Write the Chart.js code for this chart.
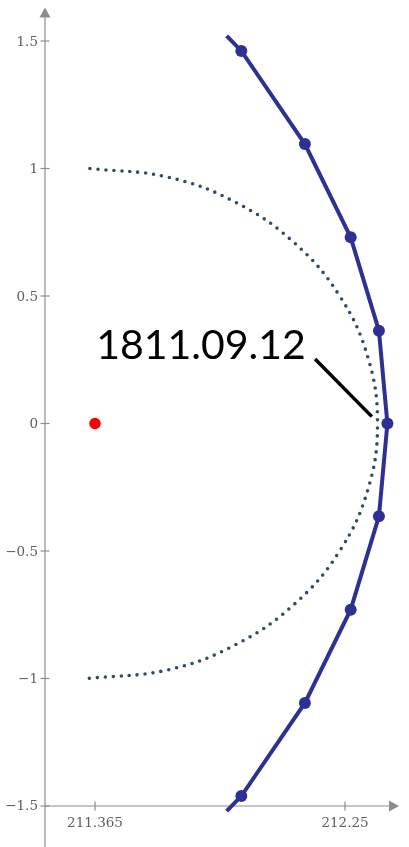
<!DOCTYPE html>
<html>
<head>
<meta charset="utf-8">
<script src="https://cdn.jsdelivr.net/npm/chart.js@4"></script>
<style>
  html, body { margin: 0; padding: 0; background: #fff; }
  #wrap { width: 409px; height: 847px; position: relative; }
</style>
</head>
<body>
<div id="wrap"><canvas id="orbitChart"></canvas></div>
<script>
// path points (blue), first/last are where the line leaves the frame
const pathX = [211.831, 211.883, 212.108, 212.270, 212.370, 212.400, 212.370, 212.270, 212.108, 211.883, 211.831];
const pathY = [1.52, 1.461, 1.096, 0.730, 0.364, 0, -0.364, -0.730, -1.096, -1.461, -1.52];
const pathMarker = [0, 1, 1, 1, 1, 1, 1, 1, 1, 1, 0];

// dotted half circle
const arcX = [211.347, 211.624, 211.865, 212.072, 212.231, 212.331, 212.365, 212.331, 212.231, 212.072, 211.865, 211.624, 211.340];
const arcY = [1.0, 0.966, 0.866, 0.707, 0.5, 0.259, 0, -0.259, -0.5, -0.707, -0.866, -0.966, -1.0];

// centre point (red)
const centreX = [211.365];
const centreY = [0];

// axis ticks
const xTicks = [211.365, 212.25];
const xTickLabels = ["211.365", "212.25"];
const yTicks = [1.5, 1, 0.5, 0, -0.5, -1, -1.5];
const yTickLabels = ["1.5", "1", "0.5", "0", "\u22120.5", "\u22121", "\u22121.5"];

// annotation
const noteText = "1811.09.12";

function toPoints(xs, ys) {
  return xs.map((x, i) => ({ x: x, y: ys[i] }));
}

const axisPlugin = {
  id: "axisPlugin",
  beforeDatasetsDraw(chart) {
    const ctx = chart.ctx;
    const xs = chart.scales.x;
    const ys = chart.scales.y;
    const ax = xs.left;
    const ay = ys.getPixelForValue(-1.5);
    const axisColor = "#8c8c8c";

    ctx.save();
    ctx.strokeStyle = axisColor;
    ctx.fillStyle = axisColor;
    ctx.lineWidth = 1.2;

    // y axis
    ctx.beginPath();
    ctx.moveTo(ax, chart.height);
    ctx.lineTo(ax, 16);
    ctx.stroke();
    ctx.beginPath();
    ctx.moveTo(ax, 7.5);
    ctx.lineTo(ax - 5.5, 17.5);
    ctx.lineTo(ax + 5.5, 17.5);
    ctx.closePath();
    ctx.fill();

    // x axis
    ctx.beginPath();
    ctx.moveTo(ax, ay);
    ctx.lineTo(390, ay);
    ctx.stroke();
    ctx.beginPath();
    ctx.moveTo(399, ay);
    ctx.lineTo(389, ay - 5.5);
    ctx.lineTo(389, ay + 5.5);
    ctx.closePath();
    ctx.fill();

    ctx.font = "13.5px 'DejaVu Serif'";
    ctx.fillStyle = "#5e5e5e";

    // y ticks
    ctx.textAlign = "right";
    ctx.textBaseline = "middle";
    yTicks.forEach((v, i) => {
      const py = ys.getPixelForValue(v);
      ctx.beginPath();
      ctx.moveTo(ax - 4.5, py);
      ctx.lineTo(ax + 4.5, py);
      ctx.stroke();
      ctx.fillText(yTickLabels[i], ax - 7, py + 1);
    });

    // x ticks
    ctx.textAlign = "center";
    ctx.textBaseline = "alphabetic";
    xTicks.forEach((v, i) => {
      const px = xs.getPixelForValue(v);
      ctx.beginPath();
      ctx.moveTo(px, ay - 4.5);
      ctx.lineTo(px, ay + 4.5);
      ctx.stroke();
      ctx.fillText(xTickLabels[i], px, ay + 21);
    });
    ctx.restore();
  },
  afterDatasetsDraw(chart) {
    const ctx = chart.ctx;
    const xs = chart.scales.x;
    const ys = chart.scales.y;
    ctx.save();
    ctx.strokeStyle = "#000";
    ctx.lineWidth = 3.5;
    ctx.beginPath();
    ctx.moveTo(xs.getPixelForValue(212.144), ys.getPixelForValue(0.253));
    ctx.lineTo(xs.getPixelForValue(212.345), ys.getPixelForValue(0.027));
    ctx.stroke();

    ctx.fillStyle = "#000";
    ctx.font = "41px Lato";
    ctx.textAlign = "left";
    ctx.textBaseline = "alphabetic";
    ctx.fillText(noteText, xs.getPixelForValue(211.369), ys.getPixelForValue(0.251));
    ctx.restore();
  }
};

const ctx = document.getElementById("orbitChart").getContext("2d");

new Chart(ctx, {
  type: "scatter",
  data: {
    datasets: [
      {
        data: toPoints(arcX, arcY),
        showLine: true,
        tension: 0.4,
        borderColor: "#2c4d6e",
        borderWidth: 3.6,
        borderDash: [0, 8],
        borderCapStyle: "round",
        pointRadius: 0,
      },
      {
        data: toPoints(pathX, pathY),
        showLine: true,
        tension: 0,
        borderColor: "#2e3192",
        backgroundColor: "#2e3192",
        borderWidth: 4,
        pointRadius: pathMarker.map((m) => m * 6),
        pointBorderWidth: 0,
      },
      {
        data: toPoints(centreX, centreY),
        backgroundColor: "#ff0000",
        pointRadius: 5.8,
        pointBorderWidth: 0,
      },
    ],
  },
  options: {
    responsive: true,
    maintainAspectRatio: false,
    animation: false,
    events: [],
    layout: { autoPadding: false, padding: { left: 45, right: 9, top: 10, bottom: 0 } },
    scales: {
      x: { type: "linear", min: 211.188, max: 212.4446, display: false },
      y: { type: "linear", min: -1.6608, max: 1.6216, display: false },
    },
    plugins: {
      legend: { display: false },
      tooltip: { enabled: false },
    },
  },
  plugins: [axisPlugin],
});
</script>
</body>
</html>
